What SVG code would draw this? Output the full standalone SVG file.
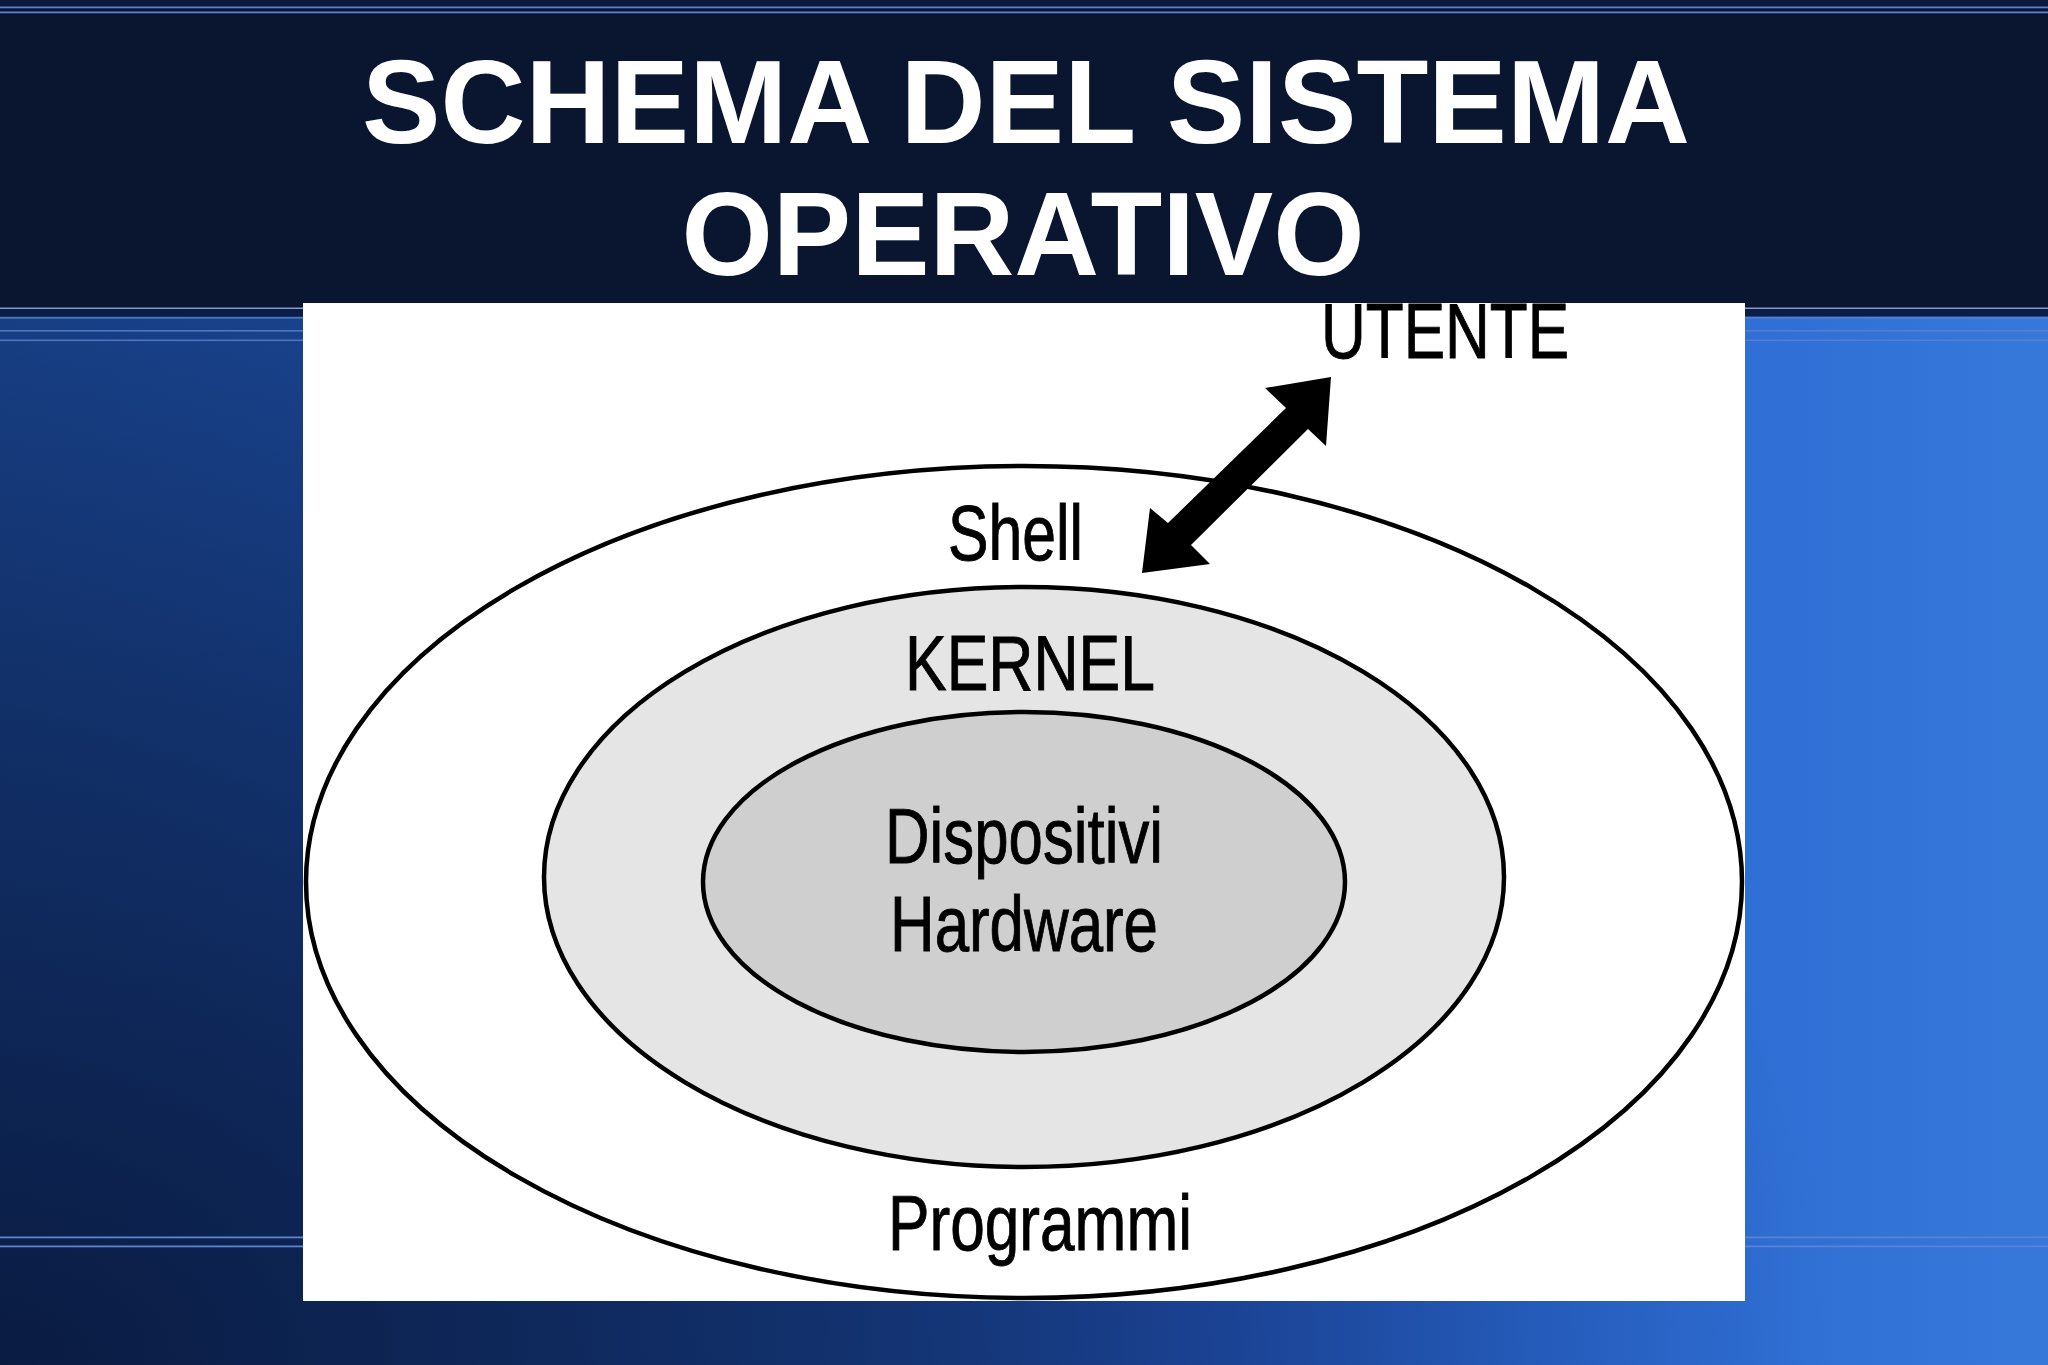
<svg xmlns="http://www.w3.org/2000/svg" width="2048" height="1365" viewBox="0 0 2048 1365">
  <defs>
    <linearGradient id="bodyH" x1="0" y1="0" x2="1" y2="0">
      <stop offset="0" stop-color="#1a4590"/>
      <stop offset="0.4" stop-color="#1d4ea6"/>
      <stop offset="0.6" stop-color="#2458bf"/>
      <stop offset="0.75" stop-color="#2a68d2"/>
      <stop offset="1" stop-color="#3678da"/>
    </linearGradient>
    <radialGradient id="bodyShade" cx="0" cy="1" r="0.9" gradientUnits="objectBoundingBox">
      <stop offset="0" stop-color="#061230" stop-opacity="0.82"/>
      <stop offset="0.5" stop-color="#061230" stop-opacity="0.45"/>
      <stop offset="1" stop-color="#061230" stop-opacity="0"/>
    </radialGradient>
    <clipPath id="panelClip">
      <rect x="303" y="303" width="1442" height="998"/>
    </clipPath>
    <style>
      .title { font-family: "Liberation Sans", Arial, sans-serif; font-weight: bold; font-size: 119px; fill: #ffffff; }
      .lbl { font-family: "Liberation Sans", Arial, sans-serif; font-size: 77px; fill: #000000; stroke: #000000; stroke-width: 0.9; }
      .ring { stroke: #000000; stroke-width: 4.5; }
      .hline { fill: #5b83cf; }
    </style>
  </defs>

  <g id="background">
    <rect x="0" y="0" width="2048" height="1365" fill="url(#bodyH)"/>
    <rect x="0" y="0" width="2048" height="1365" fill="url(#bodyShade)"/>
    <rect x="0" y="0" width="2048" height="316" fill="#0a1530"/>
    <rect x="0" y="0" width="2048" height="6" fill="#0b1a3c"/>
    <rect class="hline" x="0" y="6.5" width="2048" height="1.8"/>
    <rect class="hline" x="0" y="11.5" width="2048" height="1.8"/>
    <rect x="0" y="307.5" width="2048" height="1.6" fill="#8797cf"/>
    <rect x="0" y="309" width="2048" height="7.5" fill="#0b1d45"/>
    <rect class="hline" x="0" y="317" width="2048" height="1.6" opacity="0.8"/>
    <rect class="hline" x="0" y="330" width="2048" height="1.6" opacity="0.8"/>
    <rect class="hline" x="0" y="339.5" width="2048" height="1.6" opacity="0.8"/>
    <rect class="hline" x="0" y="1236.5" width="2048" height="1.8"/>
    <rect class="hline" x="0" y="1245.5" width="2048" height="1.8"/>
  </g>

  <g id="title">
    <text class="title" x="1026" y="143" text-anchor="middle" textLength="1328" lengthAdjust="spacingAndGlyphs">SCHEMA DEL SISTEMA</text>
    <text class="title" x="1023" y="275" text-anchor="middle" textLength="683" lengthAdjust="spacingAndGlyphs">OPERATIVO</text>
  </g>

  <rect id="panel" x="303" y="303" width="1442" height="998" fill="#ffffff"/>

  <g id="node-programmi-shell">
    <ellipse class="ring" cx="1024" cy="882" rx="718" ry="416" fill="#ffffff"/>
    <text class="lbl" x="948" y="560" textLength="135" lengthAdjust="spacingAndGlyphs">Shell</text>
    <text class="lbl" x="888" y="1250" textLength="304" lengthAdjust="spacingAndGlyphs">Programmi</text>
  </g>

  <g id="node-kernel">
    <ellipse class="ring" cx="1024" cy="877" rx="480" ry="290" fill="#e5e5e5"/>
    <text class="lbl" x="905" y="690" font-size="80" textLength="250" lengthAdjust="spacingAndGlyphs">KERNEL</text>
  </g>

  <g id="node-hardware">
    <ellipse class="ring" cx="1024" cy="882" rx="321" ry="170" fill="#cfcfcf"/>
    <text class="lbl" x="885" y="863" textLength="278" lengthAdjust="spacingAndGlyphs">Dispositivi</text>
    <text class="lbl" x="890" y="951" textLength="268" lengthAdjust="spacingAndGlyphs">Hardware</text>
  </g>

  <g id="node-utente" clip-path="url(#panelClip)">
    <text class="lbl" x="1321" y="358" textLength="248" lengthAdjust="spacingAndGlyphs">UTENTE</text>
  </g>

  <g id="connectors">
    <polygon fill="#000000" points="1331,377 1326,446 1308,429 1191,545 1210,564 1142,573 1150,508 1168,523 1286,408 1265,388"/>
  </g>
</svg>
